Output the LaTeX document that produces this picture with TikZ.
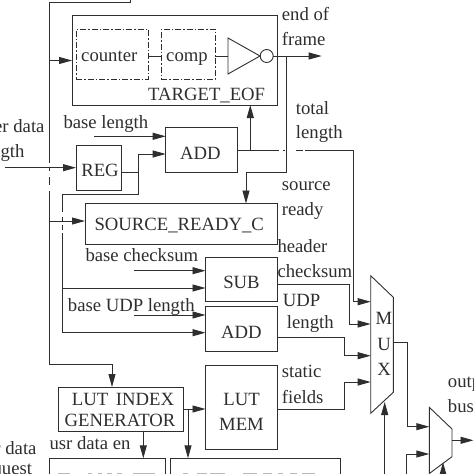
\documentclass[tikz,border=0pt]{standalone}
\usepackage{fontspec}
\setmainfont{Liberation Serif}
\usetikzlibrary{arrows.meta}
\definecolor{ink}{gray}{0.18}
\tikzset{x=1pt,y=-1pt,
 wire/.style={draw=ink,line width=0.9pt},
 arr/.style={wire,-{Triangle[length=13pt,width=7pt]}},
 blk/.style={draw=ink,line width=0.9pt,inner sep=0pt,outer sep=0pt,anchor=north west},
 lbl/.style={text=ink,inner sep=0pt,font=\fontsize{18.7}{18.7}\selectfont,anchor=base west},
 lble/.style={lbl,anchor=base east},
 ctr/.style={lbl,anchor=base},
 dd/.style={blk,dash pattern=on 6pt off 2pt on 1.5pt off 2pt},
 faint/.style={draw=black!28,line width=1.2pt}
}
\newcommand{\bx}[5]{\node[blk,minimum width=#4pt-#2pt,minimum height=#5pt-#3pt] (#1) at (#2,#3) {};}
\newcommand{\ddbx}[5]{\node[dd,minimum width=#4pt-#2pt,minimum height=#5pt-#3pt] (#1) at (#2,#3) {};}
\begin{document}
\begin{tikzpicture}
\useasboundingbox (0,0) rectangle (474,474);
\clip (0,0) rectangle (474,474);
% blocks
\bx{tgt}{72}{15.7}{277.5}{105}
\ddbx{cnt}{76}{29}{148}{79}
\ddbx{cmp}{161}{29}{215}{79}
\bx{add1}{165.7}{127.3}{237.3}{172.3}
\bx{reg}{76}{145.3}{121}{190.3}
\bx{src}{85}{203.5}{277.5}{244}
\bx{sub}{205.5}{257.3}{277.5}{301.7}
\bx{add2}{205.5}{306.7}{277.5}{351}
\bx{mem}{205.5}{365}{277.5}{449.3}
\bx{gen}{58.3}{387}{183.7}{431.3}
\bx{bl1}{49.5}{458.3}{165.7}{500}
\bx{bl2}{170.3}{458.3}{340}{500}
% inverter
\coordinate (inv1) at (228,38); \coordinate (inv2) at (228,74); \coordinate (inv3) at (260,56);
\draw[wire] (inv1)--(inv2)--(inv3)--cycle;
\node[draw=ink,line width=0.9pt,circle,minimum size=13pt,inner sep=0pt,outer sep=0pt] (bub) at (266.7,56) {};
% muxes
\draw[wire] (370.7,275.7)--(393.3,297.3)--(393.3,392.3)--(370.7,413.3)--cycle;
\draw[wire] (429.3,407.3)--(452,429)--(452,456.7)--(429.3,473.5)--cycle;
% wires
\draw[wire] (130,0)--(130,2)--(49.5,2)--(49.5,163);
\draw[wire] (49.5,167)--(49.5,171);
\draw[wire] (49.5,177)--(49.5,185);
\draw[wire] (49.5,191)--(49.5,364.3)--(112,364.3);
\draw[arr] (112,364.3)--(gen.north-|112,0);
\draw[arr] (49.5,60.5)--(tgt.west|-0,60.5);
\draw[arr] (49.5,221)--(src.west|-0,221);
\draw[arr] (5,167.7)--(reg.west|-0,167.7);
\draw[wire] (cnt.east|-0,56)--(cmp.west|-0,56);
\draw[wire] (cmp.east|-0,56)--(inv1|-0,56);
\draw[arr] (bub.east)--(321.7,56);
\draw[wire] (286.3,56)--(286.3,172)--(246,172);
\draw[arr] (246,172)--(src.north-|246,0);
\draw[arr] (94,136.3)--(add1.west|-0,136.3);
\draw[wire] (reg.east|-0,172)--(138.5,172)--(138.5,154);
\draw[arr] (138.5,154)--(add1.west|-0,154);
\draw[wire] (138.5,172)--(138.5,194.7)--(62.7,194.7)--(62.7,212);
\draw[wire] (62.7,217)--(62.7,221);
\draw[wire] (62.7,225)--(62.7,230);
\draw[wire] (62.7,233)--(62.7,332.7);
\draw[arr] (62.7,288)--(sub.west|-0,288);
\draw[arr] (62.7,332.7)--(add2.west|-0,332.7);
\draw[arr] (134,270.7)--(sub.west|-0,270.7);
\draw[arr] (134,315)--(add2.west|-0,315);
\draw[wire] (add1.east|-0,150)--(279,150);
\draw[wire] (283,150)--(285,150);
\draw[wire] (296,150)--(303,150);
\draw[wire] (305,150)--(353.3,150)--(353.3,301.7);
\draw[arr] (353.3,301.7)--(370.7,301.7);
\draw[arr] (250.3,150)--(250.3,105);
\draw[wire] (sub.east|-0,284)--(349,284)--(349,324);
\draw[arr] (349,324)--(370.7,324);
\draw[wire] (add2.east|-0,337.7)--(344.3,337.7)--(344.3,355.7);
\draw[arr] (344.3,355.7)--(370.7,355.7);
\draw[wire] (mem.east|-0,409)--(344.3,409)--(344.3,382);
\draw[arr] (344.3,382)--(370.7,382);
\draw[arr] (384.7,480)--(384.7,402);
\draw[wire] (393.3,342)--(407.3,342)--(407.3,426.7);
\draw[arr] (407.3,426.7)--(429.3,426.7);
\draw[wire] (406.7,480)--(406.7,454);
\draw[arr] (406.7,454)--(429.3,454);
\draw[arr] (452,440.3)--(473.5,440.3);
\draw[arr] (443,480)--(443,462.3);
\draw[arr] (gen.east|-0,409)--(mem.west|-0,409);
\draw[arr] (188,409)--(188,458.3);
\draw[arr] (143.3,431.3)--(143.3,458.3);
% cropped tops of the lowest block texts
\draw[faint] (58,473.6)--(70,473.6) (88,473.6)--(92,473.6) (98,473.6)--(102,473.6) (107,473.6)--(112,473.6) (117,473.6)--(122,473.6) (133,473.6)--(155,473.6);
\draw[faint] (183,473.6)--(188,473.6) (197,473.6)--(207,473.6) (210,473.6)--(225,473.6) (243,473.6)--(257,473.6) (263,473.6)--(272,473.6) (278,473.6)--(283,473.6) (290,473.6)--(297,473.6) (302,473.6)--(315,473.6);
% labels
\node[lbl] (t01) at (81,61) {counter};
\node[lbl] (t02) at (166,61) {comp};
\node[lbl] (t03) at (148,100.7) {TARGET\_EOF};
\node[lbl] (t04) at (281.7,20) {end of};
\node[lbl] (t05) at (281.7,45) {frame};
\node[lbl] (t06) at (295.7,114) {total};
\node[lbl] (t07) at (295.7,138.5) {length};
\node[lbl] (t08) at (63.3,128) {base length};
\node[lble] (t09) at (44.7,132.3) {user data};
\node[lble] (t10) at (24.7,157) {length};
\node[ctr] (t11) at (200.5,159) {ADD};
\node[ctr] (t12) at (100,176.7) {REG};
\node[lbl] (t13) at (281.7,190) {source};
\node[lbl] (t14) at (281.7,215) {ready};
\node[lbl] (t15) at (94.3,230) {SOURCE\_READY\_C};
\node[lbl] (t16) at (85.3,261.7) {base checksum};
\node[lbl] (t17) at (67.7,311) {base UDP length};
\node[ctr] (t18) at (241.5,288) {SUB};
\node[ctr] (t19) at (241.5,338) {ADD};
\node[lbl] (t20) at (277.3,252.3) {header};
\node[lbl] (t21) at (277.3,277.3) {checksum};
\node[lbl] (t22) at (282.7,306.3) {UDP};
\node[lbl] (t23) at (286.7,328.3) {length};
\node[lbl] (t24) at (281.7,377.3) {static};
\node[lbl] (t25) at (281.7,403.3) {fields};
\node[ctr] (t26) at (123,405) {LUT\hspace{3pt} INDEX};
\node[ctr] (t27) at (120,426.3) {GENERATOR};
\node[ctr] (t28) at (241.5,405) {LUT};
\node[ctr] (t29) at (241.5,430.7) {MEM};
\node[lbl] (t30) at (49.3,449) {usr data en};
\node[lble] (t31) at (36.7,454) {user data};
\node[lble] (t32) at (32.3,474) {request};
\node[lbl] (t33) at (447.7,387.3) {output};
\node[lbl] (t34) at (447.7,412.3) {bus};
\node[ctr] (t35) at (384,324) {M};
\node[ctr] (t36) at (384,350) {U};
\node[ctr] (t37) at (384,375) {X};
\end{tikzpicture}
\end{document}
